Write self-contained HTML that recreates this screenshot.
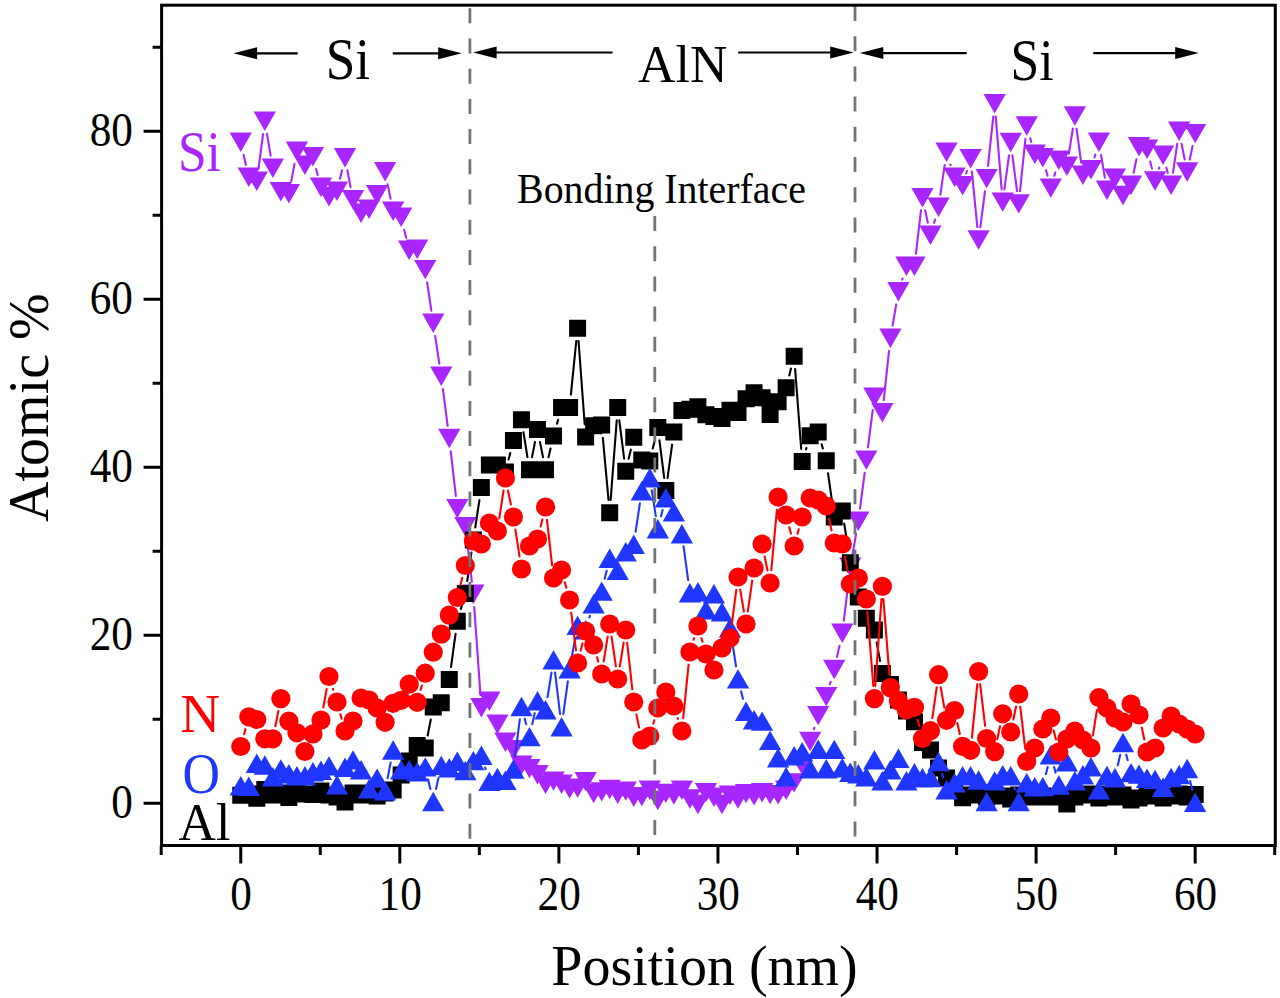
<!DOCTYPE html>
<html><head><meta charset="utf-8"><title>Atomic profile</title>
<style>html,body{margin:0;padding:0;background:#fff;overflow:hidden;}svg{display:block;}</style>
</head><body>
<svg width="1280" height="998" viewBox="0 0 1280 998">
<rect x="0" y="0" width="1280" height="998" fill="#fff"/>
<path fill="none" stroke="#A826FF" stroke-width="2.1" stroke-linecap="round" d="M243.61 154.78L245.91 164.82M258.49 168.61L263.12 133.99M266.96 133.92L270.68 155.68M291.25 181.22L294.52 163.88M316.19 169.18L317.7 174.92M339.97 178.85L342.03 170.25M347.42 170.37L350.63 187.23M387.66 184.34L390.59 198.76M404.18 229.74L406.15 237.86M427.11 282.26L431.35 310.64M435.15 335.96L439.34 363.64M442.9 388.99L447.64 425.81M450.73 451.22L455.84 495.88M466.83 539.41L471.83 581.59M474.24 607.07L480.46 695.03M813.98 729.27L814.43 727.83M829.87 684.33L830.62 681.77M837.02 657L839.51 645.8M843.82 620.59L848.75 580.01M852.49 554.69L856.12 533.91M859.98 508.61L864.67 472.79M867.96 447.4L872.74 410M883.75 400.07L889.03 350.93M892.58 325.59L896.24 304.41M902.26 279.59L902.6 278.51M915.94 253.59L920.99 210.41M925.15 210.22L927.83 222.78M934.02 222.99L934.99 219.61M940.37 194.63L944.69 164.97M950.45 164.49L950.65 165.11M966.21 173.53L966.97 170.97M971.86 171.44L977.36 227.26M980.28 227.31L984.98 191.29M988 165.87L993.3 116.43M995.7 116.46L1001.64 189.34M1004.39 189.41L1009 155.19M1012.36 155.19L1017.06 191.21M1020.03 191.17L1025.43 138.73M1030.23 138.31L1031.27 141.99M1046.06 170.17L1047.53 175.73M1054.35 175.8L1055.28 172.6M1068.86 153.66L1072.85 128.64M1076.58 128.68L1081.17 162.62M1094.5 157.42L1095.33 154.58M1101.04 154.92L1104.84 177.68M1133.62 172.77L1136.42 159.33M1150.18 161.61L1151.94 168.59M1158.88 168.78L1159.28 167.52M1166.39 167.67L1167.8 172.93M1172.99 172.64L1177.25 143.86M1181.6 143.76L1184.68 159.44M1189.77 159.47L1192.55 146.13"/>
<path fill="#A826FF" d="M229.6 132.6H251.9L240.75 152ZM237.62 167.6H259.92L248.77 187ZM245.64 171.6H267.94L256.79 191ZM253.66 111.6H275.96L264.81 131ZM261.68 158.6H283.98L272.83 178ZM269.7 182.1H292L280.85 201.5ZM277.72 184.1H300.02L288.87 203.5ZM285.74 141.6H308.04L296.89 161ZM293.76 155.6H316.06L304.91 175ZM301.78 147.1H324.08L312.93 166.5ZM309.8 177.6H332.1L320.95 197ZM317.82 187.1H340.12L328.97 206.5ZM325.84 181.6H348.14L336.99 201ZM333.86 148.1H356.16L345.01 167.5ZM341.88 190.1H364.18L353.03 209.5ZM349.91 203.6H372.21L361.06 223ZM357.93 199.6H380.23L369.08 219ZM365.95 185.1H388.25L377.1 204.5ZM373.97 162.1H396.27L385.12 181.5ZM381.99 201.6H404.29L393.14 221ZM390.01 207.6H412.31L401.16 227ZM398.03 240.6H420.33L409.18 260ZM406.05 239.6H428.35L417.2 259ZM414.07 259.9H436.37L425.22 279.3ZM422.09 313.6H444.39L433.24 333ZM430.11 366.6H452.41L441.26 386ZM438.13 428.8H460.43L449.28 448.2ZM446.15 498.9H468.45L457.3 518.3ZM454.17 517H476.47L465.32 536.4ZM462.19 584.6H484.49L473.34 604ZM470.21 698.1H492.51L481.36 717.5ZM478.23 691.6H500.53L489.38 711ZM486.25 714.6H508.55L497.4 734ZM494.27 732.6H516.57L505.42 752ZM502.29 740.1H524.59L513.44 759.5ZM510.31 755.6H532.61L521.46 775ZM518.33 758.9H540.63L529.48 778.3ZM526.35 765.1H548.65L537.5 784.5ZM534.37 774.6H556.67L545.52 794ZM542.39 771.4H564.69L553.54 790.8ZM550.41 774.5H572.71L561.56 793.9ZM558.43 779.2H580.73L569.58 798.6ZM566.45 778.4H588.75L577.6 797.8ZM574.47 771.9H596.77L585.62 791.3ZM582.49 783.8H604.79L593.64 803.2ZM590.52 782.2H612.82L601.67 801.6ZM598.54 779.8H620.84L609.69 799.2ZM606.56 784.5H628.86L617.71 803.9ZM614.58 781.4H636.88L625.73 800.8ZM622.6 787.6H644.9L633.75 807ZM630.62 786.9H652.92L641.77 806.3ZM638.64 780.6H660.94L649.79 800ZM646.66 790.8H668.96L657.81 810.2ZM654.68 783.7H676.98L665.83 803.1ZM662.7 785.3H685L673.85 804.7ZM670.72 780.6H693.02L681.87 800ZM678.74 789.3H701.04L689.89 808.7ZM686.76 794.8H709.06L697.91 814.2ZM694.78 782.9H717.08L705.93 802.3ZM702.8 787.6H725.1L713.95 807ZM710.82 794.8H733.12L721.97 814.2ZM718.84 785.6H741.14L729.99 805ZM726.86 789.4H749.16L738.01 808.8ZM734.88 783.9H757.18L746.03 803.3ZM742.9 786.2H765.2L754.05 805.6ZM750.92 783.1H773.22L762.07 802.5ZM758.94 784.9H781.24L770.09 804.3ZM766.96 785H789.26L778.11 804.4ZM774.98 780.6H797.28L786.13 800ZM783 773.2H805.3L794.15 792.6ZM791.02 755.6H813.32L802.17 775ZM799.04 731.8H821.34L810.19 751.2ZM807.06 705.9H829.36L818.21 725.3ZM815.08 686.9H837.38L826.23 706.3ZM823.1 659.8H845.4L834.25 679.2ZM831.13 623.6H853.43L842.28 643ZM839.15 557.6H861.45L850.3 577ZM847.17 511.6H869.47L858.32 531ZM855.19 450.4H877.49L866.34 469.8ZM863.21 387.6H885.51L874.36 407ZM871.23 403.1H893.53L882.38 422.5ZM879.25 328.5H901.55L890.4 347.9ZM887.27 282.1H909.57L898.42 301.5ZM895.29 256.6H917.59L906.44 276ZM903.31 256.6H925.61L914.46 276ZM911.33 188H933.63L922.48 207.4ZM919.35 225.6H941.65L930.5 245ZM927.37 197.6H949.67L938.52 217ZM935.39 142.6H957.69L946.54 162ZM943.41 167.6H965.71L954.56 187ZM951.43 176.1H973.73L962.58 195.5ZM959.45 149H981.75L970.6 168.4ZM967.47 230.3H989.77L978.62 249.7ZM975.49 168.9H997.79L986.64 188.3ZM983.51 94H1005.81L994.66 113.4ZM991.53 192.4H1013.83L1002.68 211.8ZM999.55 132.8H1021.85L1010.7 152.2ZM1007.57 194.2H1029.87L1018.72 213.6ZM1015.59 116.3H1037.89L1026.74 135.7ZM1023.61 144.6H1045.91L1034.76 164ZM1031.63 148.1H1053.93L1042.78 167.5ZM1039.65 178.4H1061.95L1050.8 197.8ZM1047.67 150.6H1069.97L1058.82 170ZM1055.69 156.6H1077.99L1066.84 176ZM1063.71 106.3H1086.01L1074.86 125.7ZM1071.74 165.6H1094.04L1082.89 185ZM1079.76 160H1102.06L1090.91 179.4ZM1087.78 132.6H1110.08L1098.93 152ZM1095.8 180.6H1118.1L1106.95 200ZM1103.82 168.6H1126.12L1114.97 188ZM1111.84 185.8H1134.14L1122.99 205.2ZM1119.86 175.6H1142.16L1131.01 195ZM1127.88 137.1H1150.18L1139.03 156.5ZM1135.9 139.5H1158.2L1147.05 158.9ZM1143.92 171.3H1166.22L1155.07 190.7ZM1151.94 145.6H1174.24L1163.09 165ZM1159.96 175.6H1182.26L1171.11 195ZM1167.98 121.5H1190.28L1179.13 140.9ZM1176 162.3H1198.3L1187.15 181.7ZM1184.02 123.9H1206.32L1195.17 143.3Z"/>
<path fill="none" stroke="#000000" stroke-width="2.1" stroke-linecap="round" d="M427.68 735.44L430.78 719.56M451.02 666.92L455.56 633.88M460.86 608.91L461.76 605.79M467.22 580.84L471.44 552.66M475.27 527.35L479.43 500.05M508.58 459.6L510.28 452.9M523.49 432.34L527.45 457.06M531.99 457.15L534.99 442.15M540.01 442.15L543.01 457.15M548.49 457.25L550.58 448.45M557 423.68L558.11 419.72M570.87 394.67L576.31 340.93M578.55 340.97L584.68 424.23M602.83 437.75L608.52 499.95M610.66 499.94L616.73 420.36M619.3 420.3L624.13 458.6M628.66 458.84L630.82 449.66M652.78 448.55L654.82 440.05M659.42 440.3L664.21 477.9M667.56 477.92L672.11 444.68M789.28 375.39L791 368.61M795.12 368.96L801.2 448.84M805.97 449.38L806.39 448.02M821.66 444.33L822.79 448.37M828.04 473.37L832.45 504.33M844.23 523.65L848.34 550.15M853.22 575.26L855.39 584.54M876.67 642.59L880.06 661.01"/>
<path fill="#000000" d="M232.25 786.7h17v17h-17ZM240.27 785.5h17v17h-17ZM248.29 789.8h17v17h-17ZM256.31 781.1h17v17h-17ZM264.33 786.5h17v17h-17ZM272.35 784.5h17v17h-17ZM280.37 789.1h17v17h-17ZM288.39 784.5h17v17h-17ZM296.41 785.5h17v17h-17ZM304.43 785.9h17v17h-17ZM312.45 782.5h17v17h-17ZM320.47 786.5h17v17h-17ZM328.49 788.5h17v17h-17ZM336.51 793.5h17v17h-17ZM344.53 784.5h17v17h-17ZM352.56 786.5h17v17h-17ZM360.58 784.5h17v17h-17ZM368.6 787.5h17v17h-17ZM376.62 784.5h17v17h-17ZM384.64 781.5h17v17h-17ZM392.66 766.5h17v17h-17ZM400.68 752.5h17v17h-17ZM408.7 737h17v17h-17ZM416.72 739.5h17v17h-17ZM424.74 698.5h17v17h-17ZM432.76 694.2h17v17h-17ZM440.78 671.1h17v17h-17ZM448.8 612.7h17v17h-17ZM456.82 585h17v17h-17ZM464.84 531.5h17v17h-17ZM472.86 478.9h17v17h-17ZM480.88 456.5h17v17h-17ZM488.9 456.5h17v17h-17ZM496.92 463.5h17v17h-17ZM504.94 432h17v17h-17ZM512.96 411.2h17v17h-17ZM520.98 461.2h17v17h-17ZM529 421.1h17v17h-17ZM537.02 461.2h17v17h-17ZM545.04 427.5h17v17h-17ZM553.06 398.9h17v17h-17ZM561.08 398.9h17v17h-17ZM569.1 319.7h17v17h-17ZM577.12 428.5h17v17h-17ZM585.14 417.2h17v17h-17ZM593.17 416.5h17v17h-17ZM601.19 504.2h17v17h-17ZM609.21 399.1h17v17h-17ZM617.23 462.8h17v17h-17ZM625.25 428.7h17v17h-17ZM633.27 451.5h17v17h-17ZM641.29 452.5h17v17h-17ZM649.31 419.1h17v17h-17ZM657.33 482.1h17v17h-17ZM665.35 423.5h17v17h-17ZM673.37 401.9h17v17h-17ZM681.39 400.8h17v17h-17ZM689.41 398.3h17v17h-17ZM697.43 406.2h17v17h-17ZM705.45 408h17v17h-17ZM713.47 410h17v17h-17ZM721.49 401.8h17v17h-17ZM729.51 403.9h17v17h-17ZM737.53 390.3h17v17h-17ZM745.55 384.3h17v17h-17ZM753.57 389.3h17v17h-17ZM761.59 405.9h17v17h-17ZM769.61 393.3h17v17h-17ZM777.63 379.3h17v17h-17ZM785.65 347.7h17v17h-17ZM793.67 453.1h17v17h-17ZM801.69 427.3h17v17h-17ZM809.71 423.5h17v17h-17ZM817.73 452.2h17v17h-17ZM825.75 508.5h17v17h-17ZM833.78 502.5h17v17h-17ZM841.8 554.3h17v17h-17ZM849.82 588.5h17v17h-17ZM857.84 609.8h17v17h-17ZM865.86 621.5h17v17h-17ZM873.88 665.1h17v17h-17ZM881.9 676.1h17v17h-17ZM889.92 691.5h17v17h-17ZM897.94 702.5h17v17h-17ZM905.96 713.2h17v17h-17ZM913.98 734h17v17h-17ZM922 741.5h17v17h-17ZM930.02 759.5h17v17h-17ZM938.04 769.5h17v17h-17ZM946.06 779.5h17v17h-17ZM954.08 789.3h17v17h-17ZM962.1 786.5h17v17h-17ZM970.12 785.5h17v17h-17ZM978.14 788.5h17v17h-17ZM986.16 784.5h17v17h-17ZM994.18 787.5h17v17h-17ZM1002.2 790.5h17v17h-17ZM1010.22 786.5h17v17h-17ZM1018.24 788.5h17v17h-17ZM1026.26 788.5h17v17h-17ZM1034.28 787.5h17v17h-17ZM1042.3 788.5h17v17h-17ZM1050.32 788.5h17v17h-17ZM1058.34 795.5h17v17h-17ZM1066.36 788.5h17v17h-17ZM1074.39 786.5h17v17h-17ZM1082.41 785.5h17v17h-17ZM1090.43 789.5h17v17h-17ZM1098.45 785.5h17v17h-17ZM1106.47 788.5h17v17h-17ZM1114.49 786.5h17v17h-17ZM1122.51 791.5h17v17h-17ZM1130.53 789.5h17v17h-17ZM1138.55 787.5h17v17h-17ZM1146.57 786.5h17v17h-17ZM1154.59 789.5h17v17h-17ZM1162.61 787.5h17v17h-17ZM1170.63 785.5h17v17h-17ZM1178.65 788.5h17v17h-17ZM1186.67 786h17v17h-17Z"/>
<path fill="none" stroke="#1E36FF" stroke-width="2.1" stroke-linecap="round" d="M387.59 778.14L390.66 762.56M428.11 779.37L430.35 789.03M436.01 789L438.48 777.9M485.11 767.44L485.63 769.16M515.07 756.3L519.83 719.2M524.76 718.87L526.19 724.23M532.27 724.11L534.71 713.19M547.56 697.06L551.51 672.54M555.07 672.61L560.04 713.99M563.32 714.02L567.83 681.38M571.92 656.11L575.27 637.99M589.4 617.47L589.87 615.93M604.71 578.67L606.65 570.73M635.64 531.64L639.87 503.36M651.78 490.34L655.82 516.06M661.01 516.31L662.62 510.09M683.59 546.38L688.16 580.02M731.97 640.35L736.03 666.25M741.1 691.32L742.95 698.78M942.03 773.91L943.03 777.39M1014.49 787.93L1014.94 789.37M1045.9 774.19L1047.68 767.11M1054.08 767.07L1055.55 772.63M1117.8 765.32L1120.15 754.98M1126.28 754.87L1127.71 760.23M1190.1 780.95L1192.21 789.85"/>
<path fill="#1E36FF" d="M240.75 776L251.9 795.4H229.6ZM248.77 776.5L259.92 795.9H237.62ZM256.79 753.6L267.94 773H245.64ZM264.81 755.3L275.96 774.7H253.66ZM272.83 767L283.98 786.4H261.68ZM280.85 759.2L292 778.6H269.7ZM288.87 764L300.02 783.4H277.72ZM296.89 766L308.04 785.4H285.74ZM304.91 766L316.06 785.4H293.76ZM312.93 762L324.08 781.4H301.78ZM320.95 760.5L332.1 779.9H309.8ZM328.97 756.2L340.12 775.6H317.82ZM336.99 775L348.14 794.4H325.84ZM345.01 757.6L356.16 777H333.86ZM353.03 750.2L364.18 769.6H341.88ZM361.06 760L372.21 779.4H349.91ZM369.08 779L380.23 798.4H357.93ZM377.1 768.4L388.25 787.8H365.95ZM385.12 781L396.27 800.4H373.97ZM393.14 740.3L404.29 759.7H381.99ZM401.16 760L412.31 779.4H390.01ZM409.18 760L420.33 779.4H398.03ZM417.2 762L428.35 781.4H406.05ZM425.22 757.2L436.37 776.6H414.07ZM433.24 791.8L444.39 811.2H422.09ZM441.26 755.7L452.41 775.1H430.11ZM449.28 758L460.43 777.4H438.13ZM457.3 751.5L468.45 770.9H446.15ZM465.32 760.9L476.47 780.3H454.17ZM473.34 750.9L484.49 770.3H462.19ZM481.36 745.5L492.51 764.9H470.21ZM489.38 771.7L500.53 791.1H478.23ZM497.4 767.7L508.55 787.1H486.25ZM505.42 770.5L516.57 789.9H494.27ZM513.44 759.3L524.59 778.7H502.29ZM521.46 696.8L532.61 716.2H510.31ZM529.48 726.9L540.63 746.3H518.33ZM537.5 691L548.65 710.4H526.35ZM545.52 700L556.67 719.4H534.37ZM553.54 650.2L564.69 669.6H542.39ZM561.56 717L572.71 736.4H550.41ZM569.58 659L580.73 678.4H558.43ZM577.6 615.7L588.75 635.1H566.45ZM585.62 620L596.77 639.4H574.47ZM593.64 594L604.79 613.4H582.49ZM601.67 581.4L612.82 600.8H590.52ZM609.69 548.6L620.84 568H598.54ZM617.71 560.6L628.86 580H606.56ZM625.73 542.1L636.88 561.5H614.58ZM633.75 534.6L644.9 554H622.6ZM641.77 481L652.92 500.4H630.62ZM649.79 468L660.94 487.4H638.64ZM657.81 519L668.96 538.4H646.66ZM665.83 488L676.98 507.4H654.68ZM673.85 502L685 521.4H662.7ZM681.87 524L693.02 543.4H670.72ZM689.89 583L701.04 602.4H678.74ZM697.91 582L709.06 601.4H686.76ZM705.93 600L717.08 619.4H694.78ZM713.95 584L725.1 603.4H702.8ZM721.97 602L733.12 621.4H710.82ZM729.99 618L741.14 637.4H718.84ZM738.01 669.2L749.16 688.6H726.86ZM746.03 701.5L757.18 720.9H734.88ZM754.05 710L765.2 729.4H742.9ZM762.07 711.4L773.22 730.8H750.92ZM770.09 730.7L781.24 750.1H758.94ZM778.11 748L789.26 767.4H766.96ZM786.13 767L797.28 786.4H774.98ZM794.15 746L805.3 765.4H783ZM802.17 742L813.32 761.4H791.02ZM810.19 759L821.34 778.4H799.04ZM818.21 739.5L829.36 758.9H807.06ZM826.23 759L837.38 778.4H815.08ZM834.25 739.7L845.4 759.1H823.1ZM842.28 758L853.43 777.4H831.13ZM850.3 762.6L861.45 782H839.15ZM858.32 764L869.47 783.4H847.17ZM866.34 767L877.49 786.4H855.19ZM874.36 750L885.51 769.4H863.21ZM882.38 771L893.53 790.4H871.23ZM890.4 760L901.55 779.4H879.25ZM898.42 748.6L909.57 768H887.27ZM906.44 771L917.59 790.4H895.29ZM914.46 763.1L925.61 782.5H903.31ZM922.48 768L933.63 787.4H911.33ZM930.5 767.8L941.65 787.2H919.35ZM938.52 751.9L949.67 771.3H927.37ZM946.54 780L957.69 799.4H935.39ZM954.56 773L965.71 792.4H943.41ZM962.58 766L973.73 785.4H951.43ZM970.6 766L981.75 785.4H959.45ZM978.62 770.3L989.77 789.7H967.47ZM986.64 791.9L997.79 811.3H975.49ZM994.66 771.2L1005.81 790.6H983.51ZM1002.68 765.1L1013.83 784.5H991.53ZM1010.7 766L1021.85 785.4H999.55ZM1018.72 791.9L1029.87 811.3H1007.57ZM1026.74 773L1037.89 792.4H1015.59ZM1034.76 777L1045.91 796.4H1023.61ZM1042.78 776.9L1053.93 796.3H1031.63ZM1050.8 745L1061.95 764.4H1039.65ZM1058.82 775.3L1069.97 794.7H1047.67ZM1066.84 752L1077.99 771.4H1055.69ZM1074.86 771L1086.01 790.4H1063.71ZM1082.89 765L1094.04 784.4H1071.74ZM1090.91 757L1102.06 776.4H1079.76ZM1098.93 780L1110.08 799.4H1087.78ZM1106.95 765.7L1118.1 785.1H1095.8ZM1114.97 768.1L1126.12 787.5H1103.82ZM1122.99 732.8L1134.14 752.2H1111.84ZM1131.01 762.9L1142.16 782.3H1119.86ZM1139.03 764.4L1150.18 783.8H1127.88ZM1147.05 768.6L1158.2 788H1135.9ZM1155.07 769.7L1166.22 789.1H1143.92ZM1163.09 777.6L1174.24 797H1151.94ZM1171.11 767.8L1182.26 787.2H1159.96ZM1179.13 764.8L1190.28 784.2H1167.98ZM1187.15 758.8L1198.3 778.2H1176ZM1195.17 792.6L1206.32 812H1184.02Z"/>
<path fill="none" stroke="#FF0000" stroke-width="2.1" stroke-linecap="round" d="M244.09 734.14L245.43 729.16M275.34 726.25L278.35 711.15M323.27 707.51L326.66 689.09M332.81 688.71L333.15 689.79M340.41 714.34L341.6 718.66M420.6 689.96L421.82 685.54M460.41 585.08L462.21 577.92M499.32 518.34L503.51 490.66M508 490.54L510.86 504.46M515.39 529.65L519.51 556.35M540.61 526.58L542.41 519.42M546.96 519.72L552.11 565.28M564.87 582.37L566.28 587.63M571.2 612.7L575.99 650.3M580.72 650.58L582.51 643.42M597.06 657.34L598.25 661.66M603.69 661.36L607.66 636.64M611.53 636.67L615.86 666.33M619.77 666.37L623.66 642.63M627.14 642.72L632.33 689.28M636.39 714.52L639.12 727.48M653.31 723.69L654.28 720.31M677.76 718.19L677.96 718.81M683.16 718.27L688.6 664.73M693.66 639.77L694.14 638.23M701.43 638.31L702.4 641.69M731.66 625.31L736.34 589.69M740.16 589.62L743.88 611.38M747.85 611.33L752.24 580.67M764.65 556.54L767.51 570.46M771.28 570.26L776.92 509.74M789.34 527.39L790.95 533.61M797.57 533.66L798.76 529.34M828.95 518.51L831.54 530.49M844.79 556.55L847.78 571.45M867.36 611.76L873.33 685.84M875.27 685.83L881.46 599.17M883.39 599.16L889.39 674.84M917.65 719.7L919.29 726.1M932.31 718.03L936.7 687.37M940.74 687.31L944.32 707.69M957.35 722.99L959.79 733.91M971.9 737.57L977.32 684.23M980.14 684.21L985.12 725.79M997.32 739.08L1000.03 726.32M1013.35 719.48L1016.08 706.52M1020.23 706.71L1025.23 748.79M1053.74 730.46L1055.89 739.54M1092.91 735.36L1096.92 710.14M1141.74 727.51L1144.34 739.49"/>
<g fill="#FF0000">
<circle cx="240.75" cy="746.5" r="9.6"/>
<circle cx="248.77" cy="716.8" r="9.6"/>
<circle cx="256.79" cy="719.5" r="9.6"/>
<circle cx="264.81" cy="738.8" r="9.6"/>
<circle cx="272.83" cy="738.8" r="9.6"/>
<circle cx="280.85" cy="698.6" r="9.6"/>
<circle cx="288.87" cy="721.2" r="9.6"/>
<circle cx="296.89" cy="732.8" r="9.6"/>
<circle cx="304.91" cy="751.5" r="9.6"/>
<circle cx="312.93" cy="733.9" r="9.6"/>
<circle cx="320.95" cy="720.1" r="9.6"/>
<circle cx="328.97" cy="676.5" r="9.6"/>
<circle cx="336.99" cy="702" r="9.6"/>
<circle cx="345.01" cy="731" r="9.6"/>
<circle cx="353.03" cy="721" r="9.6"/>
<circle cx="361.06" cy="698" r="9.6"/>
<circle cx="369.08" cy="700" r="9.6"/>
<circle cx="377.1" cy="708" r="9.6"/>
<circle cx="385.12" cy="722.3" r="9.6"/>
<circle cx="393.14" cy="703.3" r="9.6"/>
<circle cx="401.16" cy="700.3" r="9.6"/>
<circle cx="409.18" cy="684.2" r="9.6"/>
<circle cx="417.2" cy="702.3" r="9.6"/>
<circle cx="425.22" cy="673.2" r="9.6"/>
<circle cx="433.24" cy="652.2" r="9.6"/>
<circle cx="441.26" cy="634.1" r="9.6"/>
<circle cx="449.28" cy="615.1" r="9.6"/>
<circle cx="457.3" cy="597.5" r="9.6"/>
<circle cx="465.32" cy="565.5" r="9.6"/>
<circle cx="473.34" cy="541" r="9.6"/>
<circle cx="481.36" cy="544" r="9.6"/>
<circle cx="489.38" cy="523" r="9.6"/>
<circle cx="497.4" cy="531" r="9.6"/>
<circle cx="505.42" cy="478" r="9.6"/>
<circle cx="513.44" cy="517" r="9.6"/>
<circle cx="521.46" cy="569" r="9.6"/>
<circle cx="529.48" cy="546" r="9.6"/>
<circle cx="537.5" cy="539" r="9.6"/>
<circle cx="545.52" cy="507" r="9.6"/>
<circle cx="553.54" cy="578" r="9.6"/>
<circle cx="561.56" cy="570" r="9.6"/>
<circle cx="569.58" cy="600" r="9.6"/>
<circle cx="577.6" cy="663" r="9.6"/>
<circle cx="585.62" cy="631" r="9.6"/>
<circle cx="593.64" cy="645" r="9.6"/>
<circle cx="601.67" cy="674" r="9.6"/>
<circle cx="609.69" cy="624" r="9.6"/>
<circle cx="617.71" cy="679" r="9.6"/>
<circle cx="625.73" cy="630" r="9.6"/>
<circle cx="633.75" cy="702" r="9.6"/>
<circle cx="641.77" cy="740" r="9.6"/>
<circle cx="649.79" cy="736" r="9.6"/>
<circle cx="657.81" cy="708" r="9.6"/>
<circle cx="665.83" cy="692" r="9.6"/>
<circle cx="673.85" cy="706" r="9.6"/>
<circle cx="681.87" cy="731" r="9.6"/>
<circle cx="689.89" cy="652" r="9.6"/>
<circle cx="697.91" cy="626" r="9.6"/>
<circle cx="705.93" cy="654" r="9.6"/>
<circle cx="713.95" cy="670" r="9.6"/>
<circle cx="721.97" cy="648" r="9.6"/>
<circle cx="729.99" cy="638" r="9.6"/>
<circle cx="738.01" cy="577" r="9.6"/>
<circle cx="746.03" cy="624" r="9.6"/>
<circle cx="754.05" cy="568" r="9.6"/>
<circle cx="762.07" cy="544" r="9.6"/>
<circle cx="770.09" cy="583" r="9.6"/>
<circle cx="778.11" cy="497" r="9.6"/>
<circle cx="786.13" cy="515" r="9.6"/>
<circle cx="794.15" cy="546" r="9.6"/>
<circle cx="802.17" cy="517" r="9.6"/>
<circle cx="810.19" cy="498" r="9.6"/>
<circle cx="818.21" cy="500" r="9.6"/>
<circle cx="826.23" cy="506" r="9.6"/>
<circle cx="834.25" cy="543" r="9.6"/>
<circle cx="842.28" cy="544" r="9.6"/>
<circle cx="850.3" cy="584" r="9.6"/>
<circle cx="858.32" cy="578" r="9.6"/>
<circle cx="866.34" cy="599" r="9.6"/>
<circle cx="874.36" cy="698.6" r="9.6"/>
<circle cx="882.38" cy="586.4" r="9.6"/>
<circle cx="890.4" cy="687.6" r="9.6"/>
<circle cx="898.42" cy="700.8" r="9.6"/>
<circle cx="906.44" cy="710" r="9.6"/>
<circle cx="914.46" cy="707.3" r="9.6"/>
<circle cx="922.48" cy="738.5" r="9.6"/>
<circle cx="930.5" cy="730.7" r="9.6"/>
<circle cx="938.52" cy="674.7" r="9.6"/>
<circle cx="946.54" cy="720.3" r="9.6"/>
<circle cx="954.56" cy="710.5" r="9.6"/>
<circle cx="962.58" cy="746.4" r="9.6"/>
<circle cx="970.6" cy="750.3" r="9.6"/>
<circle cx="978.62" cy="671.5" r="9.6"/>
<circle cx="986.64" cy="738.5" r="9.6"/>
<circle cx="994.66" cy="751.6" r="9.6"/>
<circle cx="1002.68" cy="713.8" r="9.6"/>
<circle cx="1010.7" cy="732" r="9.6"/>
<circle cx="1018.72" cy="694" r="9.6"/>
<circle cx="1026.74" cy="761.5" r="9.6"/>
<circle cx="1034.76" cy="748" r="9.6"/>
<circle cx="1042.78" cy="729" r="9.6"/>
<circle cx="1050.8" cy="718" r="9.6"/>
<circle cx="1058.82" cy="752" r="9.6"/>
<circle cx="1066.84" cy="739" r="9.6"/>
<circle cx="1074.86" cy="731" r="9.6"/>
<circle cx="1082.89" cy="740" r="9.6"/>
<circle cx="1090.91" cy="748" r="9.6"/>
<circle cx="1098.93" cy="697.5" r="9.6"/>
<circle cx="1106.95" cy="708" r="9.6"/>
<circle cx="1114.97" cy="718" r="9.6"/>
<circle cx="1122.99" cy="722" r="9.6"/>
<circle cx="1131.01" cy="704" r="9.6"/>
<circle cx="1139.03" cy="715" r="9.6"/>
<circle cx="1147.05" cy="752" r="9.6"/>
<circle cx="1155.07" cy="748" r="9.6"/>
<circle cx="1163.09" cy="728" r="9.6"/>
<circle cx="1171.11" cy="716" r="9.6"/>
<circle cx="1179.13" cy="724" r="9.6"/>
<circle cx="1187.15" cy="729" r="9.6"/>
<circle cx="1195.17" cy="734" r="9.6"/>
</g>
<line x1="469.9" y1="8.3" x2="469.9" y2="844" stroke="#737373" stroke-width="2.8" stroke-dasharray="15 15.2"/>
<line x1="654.8" y1="216" x2="654.8" y2="844" stroke="#737373" stroke-width="2.8" stroke-dasharray="15 15.2"/>
<line x1="855" y1="6" x2="855" y2="844" stroke="#737373" stroke-width="2.8" stroke-dasharray="15 15.2"/>
<rect x="161.6" y="5.2" width="1113.7" height="840.3" fill="none" stroke="#000" stroke-width="3"/>
<path fill="none" stroke="#000" stroke-width="3" d="M161.6 803.2H143.6M161.6 635.2H143.6M161.6 467.2H143.6M161.6 299.2H143.6M161.6 131.2H143.6M161.6 719.2H152.6M161.6 551.2H152.6M161.6 383.2H152.6M161.6 215.2H152.6M161.6 47.2H152.6M240.75 845.5V863.5M399.82 845.5V863.5M558.89 845.5V863.5M717.96 845.5V863.5M877.03 845.5V863.5M1036.1 845.5V863.5M1195.17 845.5V863.5M161.22 845.5V855M320.28 845.5V855M479.36 845.5V855M638.42 845.5V855M797.5 845.5V855M956.57 845.5V855M1115.63 845.5V855M1274.7 845.5V855"/>
<g font-family="Liberation Serif, serif" font-size="45" fill="#000">
<text transform="translate(241.05 910) scale(0.96 1.075)" text-anchor="middle">0</text>
<text transform="translate(400.12 910) scale(0.96 1.075)" text-anchor="middle">10</text>
<text transform="translate(559.19 910) scale(0.96 1.075)" text-anchor="middle">20</text>
<text transform="translate(718.26 910) scale(0.96 1.075)" text-anchor="middle">30</text>
<text transform="translate(877.33 910) scale(0.96 1.075)" text-anchor="middle">40</text>
<text transform="translate(1036.4 910) scale(0.96 1.075)" text-anchor="middle">50</text>
<text transform="translate(1195.47 910) scale(0.96 1.075)" text-anchor="middle">60</text>
<text transform="translate(132.9 803.2) scale(0.96 1.08)" y="14.1" text-anchor="end">0</text>
<text transform="translate(132.9 635.2) scale(0.96 1.08)" y="14.1" text-anchor="end">20</text>
<text transform="translate(132.9 467.2) scale(0.96 1.08)" y="14.1" text-anchor="end">40</text>
<text transform="translate(132.9 299.2) scale(0.96 1.08)" y="14.1" text-anchor="end">60</text>
<text transform="translate(132.9 131.2) scale(0.96 1.08)" y="14.1" text-anchor="end">80</text>
</g>
<text font-family="Liberation Serif, serif" font-size="56" x="704.5" y="985.4" text-anchor="middle">Position (nm)</text>
<text font-family="Liberation Serif, serif" font-size="56" transform="translate(48.2 407.6) rotate(-90)" text-anchor="middle">Atomic %</text>
<path d="M233.6 53.3L257.1 47.3L257.1 59.3Z" fill="#000"/><line x1="253.6" y1="53.3" x2="297.7" y2="53.3" stroke="#000" stroke-width="2.2"/>
<path d="M461.7 53.3L438.2 47.3L438.2 59.3Z" fill="#000"/><line x1="392.8" y1="53.3" x2="441.7" y2="53.3" stroke="#000" stroke-width="2.2"/>
<path d="M473.1 52.5L496.6 46.5L496.6 58.5Z" fill="#000"/><line x1="493.1" y1="52.5" x2="612.6" y2="52.5" stroke="#000" stroke-width="2.2"/>
<path d="M853.7 52.5L830.2 46.5L830.2 58.5Z" fill="#000"/><line x1="738.2" y1="52.5" x2="833.7" y2="52.5" stroke="#000" stroke-width="2.2"/>
<path d="M859.8 53.1L883.3 47.1L883.3 59.1Z" fill="#000"/><line x1="879.8" y1="53.1" x2="966.7" y2="53.1" stroke="#000" stroke-width="2.2"/>
<path d="M1198.7 53.1L1175.2 47.1L1175.2 59.1Z" fill="#000"/><line x1="1093.2" y1="53.1" x2="1178.7" y2="53.1" stroke="#000" stroke-width="2.2"/>
<text font-family="Liberation Serif, serif" font-size="55" fill="#000" transform="matrix(0.9435 0 0 0.9737 638.06 82.41)">AlN</text>
<text font-family="Liberation Serif, serif" font-size="55" fill="#000" transform="matrix(0.9683 0 0 1.0778 325.73 78.7)">Si</text>
<text font-family="Liberation Serif, serif" font-size="55" fill="#000" transform="matrix(0.9390 0 0 1.0694 1010.54 79.99)">Si</text>
<text font-family="Liberation Serif, serif" font-size="38.5" fill="#000" transform="matrix(1.0354 0 0 1.0714 517.06 202.73)">Bonding Interface</text>
<text font-family="Liberation Serif, serif" font-size="54" fill="#A826FF" transform="matrix(0.9525 0 0 1.0694 177.99 171.27)">Si</text>
<text font-family="Liberation Serif, serif" font-size="54" fill="#FF0000" transform="matrix(1.0222 0 0 1.0167 180.26 731.7)">N</text>
<text font-family="Liberation Serif, serif" font-size="54" fill="#1E36FF" transform="matrix(0.9600 0 0 1.0639 182.58 792.6)">O</text>
<text font-family="Liberation Serif, serif" font-size="54" fill="#000" transform="matrix(0.9596 0 0 0.9895 178.54 840.4)">Al</text>
</svg>
</body></html>
